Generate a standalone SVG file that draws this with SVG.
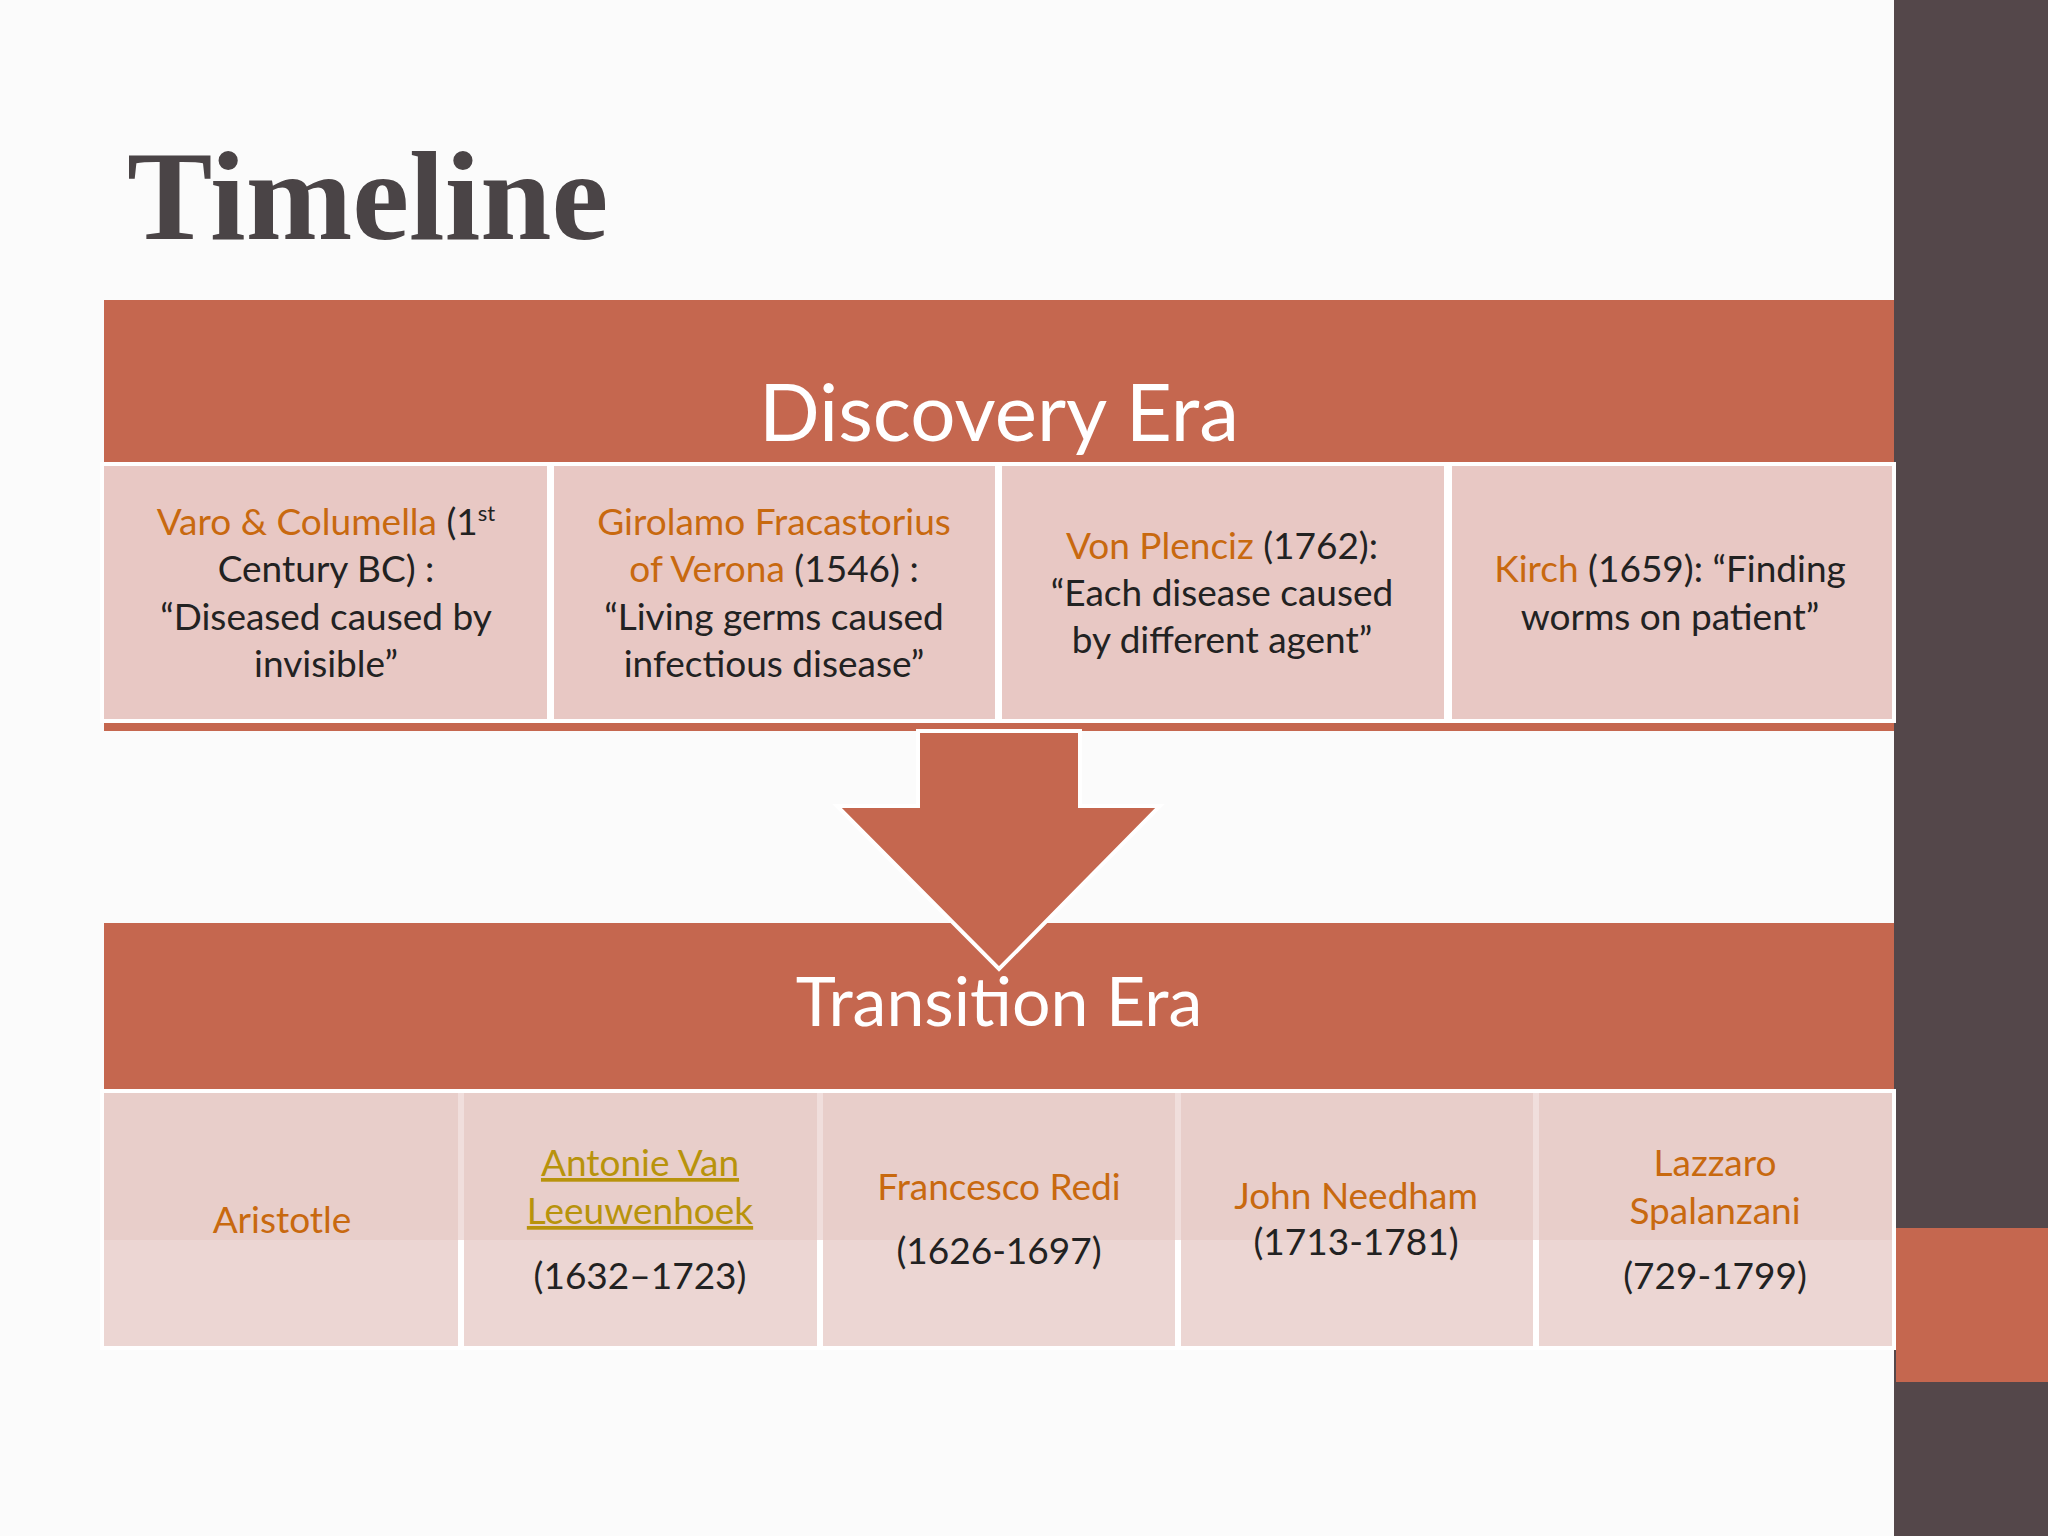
<svg xmlns="http://www.w3.org/2000/svg" width="2048" height="1536" viewBox="0 0 2048 1536">
<style>
.t{font-family:Lato,"Open Sans","Liberation Sans",sans-serif;font-size:37px;fill:#222;text-anchor:middle}
.o{fill:#c8690f}
.l{fill:#b8930c;text-decoration:underline}
.cell{fill:#e8c8c4;stroke:#fff;stroke-width:4}
.cell2{fill:#ecd6d3;stroke:#fff;stroke-width:4}
.band{fill:#c5674f}
.h{font-family:Lato,"Open Sans","Liberation Sans",sans-serif;fill:#fff;text-anchor:middle}
</style>
<rect width="2048" height="1536" fill="#fbfbfb"/>
<rect x="1894" y="0" width="154" height="1536" fill="#54474a"/>
<rect x="1896" y="1228" width="152" height="154" fill="#c5674f"/>
<text x="127" y="239" font-family="Liberation Serif,serif" font-weight="bold" font-size="128" fill="#4a4446">Timeline</text>
<g id="discovery">
<rect class="band" x="104" y="300" width="1790" height="431"/>
<text class="h" x="999" y="441" font-size="80">Discovery Era</text>
<rect class="cell" x="102" y="464" width="447" height="257"/>
<rect class="cell" x="552" y="464" width="445" height="257"/>
<rect class="cell" x="1000" y="464" width="446" height="257"/>
<rect class="cell" x="1450" y="464" width="444" height="257"/>
<text class="t" x="326" y="535"><tspan class="o">Varo &amp; Columella</tspan> (1<tspan font-size="22" dy="-14">st</tspan></text>
<text class="t" x="326" y="582">Century BC) :</text>
<text class="t" x="326" y="630">“Diseased caused by</text>
<text class="t" x="326" y="677">invisible”</text>
<text class="t" x="774" y="535"><tspan class="o">Girolamo Fracastorius</tspan></text>
<text class="t" x="774" y="582"><tspan class="o">of Verona</tspan> (1546) :</text>
<text class="t" x="774" y="630">“Living germs caused</text>
<text class="t" x="774" y="677">infectious disease”</text>
<text class="t" x="1222" y="559"><tspan class="o">Von Plenciz</tspan> (1762):</text>
<text class="t" x="1222" y="606">“Each disease caused</text>
<text class="t" x="1222" y="653">by different agent”</text>
<text class="t" x="1670" y="582"><tspan class="o">Kirch</tspan> (1659): “Finding</text>
<text class="t" x="1670" y="630">worms on patient”</text>
</g>
<g id="transition">
<rect class="band" x="104" y="923" width="1790" height="168"/>
<rect class="cell2" x="102" y="1091" width="358" height="257"/>
<rect class="cell2" x="462" y="1091" width="357" height="257"/>
<rect class="cell2" x="821" y="1091" width="356" height="257"/>
<rect class="cell2" x="1179" y="1091" width="356" height="257"/>
<rect class="cell2" x="1537" y="1091" width="357" height="257"/>
<rect x="104" y="1093" width="1788" height="147" fill="#e6c8c4" opacity="0.6"/>
<text class="t o" x="282" y="1233">Aristotle</text>
<text class="t l" x="640" y="1176">Antonie Van</text>
<text class="t l" x="640" y="1224">Leeuwenhoek</text>
<text class="t" x="640" y="1289">(1632–1723)</text>
<text class="t o" x="999" y="1200">Francesco Redi</text>
<text class="t" x="999" y="1264">(1626-1697)</text>
<text class="t o" x="1356" y="1209">John Needham</text>
<text class="t" x="1356" y="1255">(1713-1781)</text>
<text class="t o" x="1715" y="1176">Lazzaro</text>
<text class="t o" x="1715" y="1224">Spalanzani</text>
<text class="t" x="1715" y="1289">(729-1799)</text>
</g>
<g id="connectors">
<path d="M918 731 V806 H837 L999 969 L1160 806 H1080 V731 Z" fill="#c5674f" stroke="#fff" stroke-width="4"/>
</g>
<text class="h" x="999" y="1026" font-size="68">Transition Era</text>
</svg>
